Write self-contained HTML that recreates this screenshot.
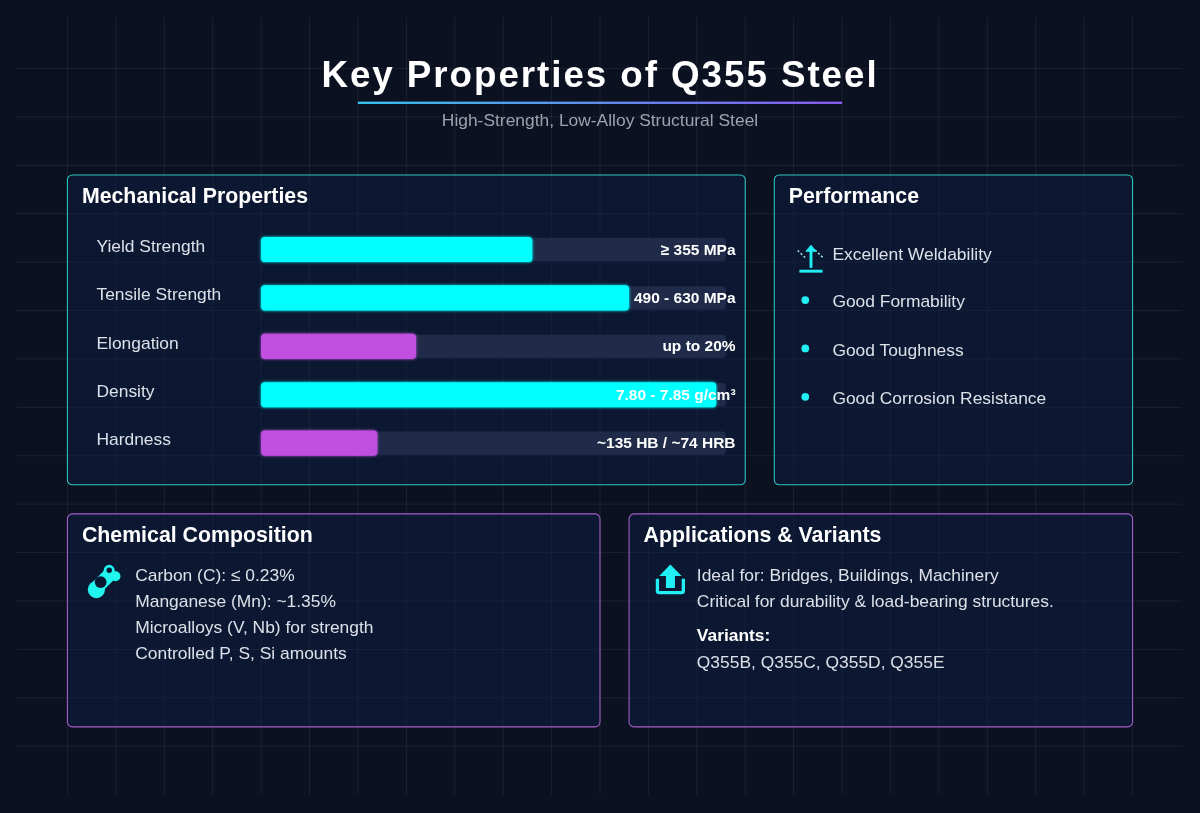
<!DOCTYPE html>
<html lang="en">
<head>
<meta charset="utf-8">
<title>Key Properties of Q355 Steel</title>
<style>
html,body{margin:0;padding:0;background:#0b1120;}
body{width:1200px;height:813px;overflow:hidden;position:relative;font-family:"Liberation Sans",Arial,sans-serif;}
svg{overflow:visible;position:absolute;left:19.15px;top:19.6px;width:1162px;height:774.67px;display:block;}
text{font-family:"Liberation Sans",Arial,sans-serif;}
.ct{font-size:22px;font-weight:bold;fill:#ffffff;}
.lb{font-size:18px;fill:#dce0e8;}
.val{font-size:16px;font-weight:bold;fill:#ffffff;text-anchor:end;}
</style>
</head>
<body>
<svg viewBox="0 0 1200 800">
<defs>
<linearGradient id="tg" x1="0" y1="0" x2="1" y2="0">
<stop offset="0" stop-color="#38c4f0"/><stop offset="1" stop-color="#8b5cf6"/>
</linearGradient>
<filter id="glow" x="-20%" y="-50%" width="140%" height="200%">
<feGaussianBlur stdDeviation="1.8" result="b"/>
<feMerge><feMergeNode in="b"/><feMergeNode in="SourceGraphic"/></feMerge>
</filter>
</defs>
<path d="M50 -3V800M100 -3V800M150 -3V800M200 -3V800M250 -3V800M300 -3V800M350 -3V800M400 -3V800M450 -3V800M500 -3V800M550 -3V800M600 -3V800M650 -3V800M700 -3V800M750 -3V800M800 -3V800M850 -3V800M900 -3V800M950 -3V800M1000 -3V800M1050 -3V800M1100 -3V800M1150 -3V800M-3 50H1201M-3 100H1201M-3 150H1201M-3 200H1201M-3 250H1201M-3 300H1201M-3 350H1201M-3 400H1201M-3 450H1201M-3 500H1201M-3 550H1201M-3 600H1201M-3 650H1201M-3 700H1201M-3 750H1201" fill="none" stroke="#ffffff" stroke-opacity="0.075" stroke-width="1"/>

<text x="600" y="69.2" text-anchor="middle" font-size="38" font-weight="bold" fill="#ffffff" letter-spacing="2">Key Properties of Q355 Steel</text>
<rect x="350" y="84.3" width="500" height="2.4" fill="url(#tg)"/>
<text x="600" y="109.3" text-anchor="middle" font-size="18" fill="#9ca3af">High-Strength, Low-Alloy Structural Steel</text>

<!-- cards -->
<rect x="50" y="160" width="700" height="320" rx="5" fill="#0d1f44" fill-opacity="0.5" stroke="#30d8d2" stroke-opacity="0.9" stroke-width="1.1"/>
<rect x="780" y="160" width="370" height="320" rx="5" fill="#0d1f44" fill-opacity="0.5" stroke="#30d8d2" stroke-opacity="0.9" stroke-width="1.1"/>
<rect x="50" y="510" width="550" height="220" rx="5" fill="#0d1f44" fill-opacity="0.5" stroke="#b566dc" stroke-opacity="0.9" stroke-width="1.1"/>
<rect x="630" y="510" width="520" height="220" rx="5" fill="#0d1f44" fill-opacity="0.5" stroke="#b566dc" stroke-opacity="0.9" stroke-width="1.1"/>

<!-- Mechanical -->
<text class="ct" x="65" y="189.5">Mechanical Properties</text>
<g>
<text class="lb" x="80" y="239.3">Yield Strength</text>
<rect x="250" y="225" width="480" height="24" rx="4" fill="#1f2b49"/>
<rect x="250" y="224" width="280" height="26" rx="4" fill="#00ffff" filter="url(#glow)"/>
<text class="val" x="740" y="242.2">≥ 355 MPa</text>

<text class="lb" x="80" y="289.3">Tensile Strength</text>
<rect x="250" y="275" width="480" height="24" rx="4" fill="#1f2b49"/>
<rect x="250" y="274" width="380" height="26" rx="4" fill="#00ffff" filter="url(#glow)"/>
<text class="val" x="740" y="292.2">490 - 630 MPa</text>

<text class="lb" x="80" y="339.3">Elongation</text>
<rect x="250" y="325" width="480" height="24" rx="4" fill="#1f2b49"/>
<rect x="250" y="324" width="160" height="26" rx="4" fill="#c04fe0" filter="url(#glow)"/>
<text class="val" x="740" y="342.2">up to 20%</text>

<text class="lb" x="80" y="389.3">Density</text>
<rect x="250" y="375" width="480" height="24" rx="4" fill="#1f2b49"/>
<rect x="250" y="374" width="470" height="26" rx="4" fill="#00ffff" filter="url(#glow)"/>
<text class="val" x="740" y="392.2">7.80 - 7.85 g/cm³</text>

<text class="lb" x="80" y="439.3">Hardness</text>
<rect x="250" y="425" width="480" height="24" rx="4" fill="#1f2b49"/>
<rect x="250" y="424" width="120" height="26" rx="4" fill="#c04fe0" filter="url(#glow)"/>
<text class="val" x="740" y="442.2">~135 HB / ~74 HRB</text>
</g>

<!-- Performance -->
<text class="ct" x="795" y="189.5">Performance</text>
<g id="weld" transform="translate(0.4,-1.6)" fill="none" stroke="#22eef5" stroke-width="3">
<path d="M803.75 239.55L811.45 246.9" stroke="#a8f2f6" stroke-width="1.5" stroke-dasharray="2.1 2.2"/>
<path d="M821.75 239.2L829.45 246.6" stroke="#a8f2f6" stroke-width="1.5" stroke-dasharray="2.1 2.2"/>
<path d="M805.5 261H829.5"/>
<path d="M817.5 257.5V240"/>
<path d="M812.3 240.4L817.5 234.2L822.7 240.4Z" fill="#22eef5" stroke-width="1"/>
</g>
<text class="lb" x="840" y="248.1">Excellent Weldability</text>
<circle cx="812" cy="289.2" r="4" fill="#22eef5"/>
<text class="lb" x="840" y="296.8">Good Formability</text>
<circle cx="812" cy="339.2" r="4" fill="#22eef5"/>
<text class="lb" x="840" y="346.8">Good Toughness</text>
<circle cx="812" cy="389.2" r="4" fill="#22eef5"/>
<text class="lb" x="840" y="396.8">Good Corrosion Resistance</text>

<!-- Chemical -->
<text class="ct" x="65" y="539.3">Chemical Composition</text>
<g id="mol" fill="#20f5ee">
<circle cx="79.9" cy="588.17" r="8.88"/>
<path d="M79.01 587.29L94.4 571.9" stroke="#20f5ee" stroke-width="14" fill="none"/>
<circle cx="93.1" cy="568.3" r="5.68"/>
<circle cx="99.62" cy="574.46" r="5.16"/>
<circle cx="84.3" cy="580.5" r="6.15" fill="#0c1832"/>
<circle cx="93.2" cy="568.2" r="2.8" fill="#0c1832"/>
</g>
<text class="lb" x="120" y="578.9">Carbon (C): ≤ 0.23%</text>
<text class="lb" x="120" y="605.9">Manganese (Mn): ~1.35%</text>
<text class="lb" x="120" y="632.9">Microalloys (V, Nb) for strength</text>
<text class="lb" x="120" y="659.9">Controlled P, S, Si amounts</text>

<!-- Applications -->
<text class="ct" x="645" y="539.3">Applications &amp; Variants</text>
<g id="upl" fill="#22eef5" transform="translate(0,-1)">
<path d="M672.7 563.3L684.3 575.3H677.4V587.6H668.1V575.3H661.1Z"/>
<path d="M659.3 578.1V590.4Q659.3 592.4 661.3 592.4H684.1Q686.1 592.4 686.1 590.4V578.1" fill="none" stroke="#22eef5" stroke-width="3.4"/>
</g>
<text class="lb" x="700" y="578.9">Ideal for: Bridges, Buildings, Machinery</text>
<text class="lb" x="700" y="605.9">Critical for durability &amp; load-bearing structures.</text>
<text class="lb" x="700" y="641.4" style="font-weight:bold;fill:#ffffff">Variants:</text>
<text class="lb" x="700" y="669">Q355B, Q355C, Q355D, Q355E</text>
</svg>
</body>
</html>
